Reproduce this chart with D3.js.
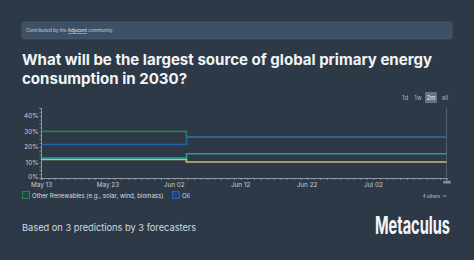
<!DOCTYPE html>
<html>
<head>
<meta charset="utf-8">
<script src="https://cdn.jsdelivr.net/npm/d3@7"></script>
<style>
  html, body { margin: 0; padding: 0; background: #2d3946; }
  text { font-family: Inter, "Noto Sans", sans-serif; }
</style>
</head>
<body>
<div id="chart"></div>
<script>
// Data (share of predicted probability)
var dates = ['2024-05-13', '2024-06-03T20:00', '2024-07-13'];
var renewables = [0.300, 0.263, 0.263];
var oil = [0.215, 0.263, 0.263];
var gas = [0.128, 0.156, 0.156];
var coal = [0.120, 0.103, 0.103];
var yTicks = [0, 0.1, 0.2, 0.3, 0.4];
var xTickDates = ['2024-05-13', '2024-05-23', '2024-06-02', '2024-06-12', '2024-06-22', '2024-07-02'];
var rangeLabels = ['1d', '1w', '2m', 'all'];

var W = 474, H = 260;
var margin = { top: 108, right: 27, bottom: 82, left: 41 };
var parse = d3.isoParse;

var svg = d3.select('#chart').append('svg')
  .attr('width', W)
  .attr('height', H);

// Background
svg.append('rect')
  .attr('width', W)
  .attr('height', H)
  .attr('fill', '#2d3946');

// Contributed banner
svg.append('rect')
  .attr('x', 22).attr('y', 22)
  .attr('width', 430).attr('height', 17)
  .attr('rx', 2)
  .attr('fill', '#3e5064')
  .attr('stroke', '#4a5d72')
  .attr('stroke-width', 0.6);

var banner = svg.append('text')
  .attr('x', 26).attr('y', 32)
  .attr('font-size', 4.6)
  .attr('fill', '#c3ccd6');
banner.append('tspan').text('Contributed by the ');
banner.append('tspan').text('Adjacent').attr('text-decoration', 'underline').attr('fill', '#e4e9ee');
banner.append('tspan').text(' community.');

// Title
var title = svg.append('text')
  .attr('x', 22)
  .attr('font-size', 15.05)
  .attr('font-weight', 700)
  .attr('fill', '#f2f4f6');
title.append('tspan').attr('x', 22).attr('y', 65).text('What will be the largest source of global primary energy');
title.append('tspan').attr('x', 22).attr('y', 84).text('consumption in 2030?');

// Range buttons
var rangeX = [405, 418, 431, 445];
svg.append('rect')
  .attr('x', 425).attr('y', 92)
  .attr('width', 12).attr('height', 11)
  .attr('rx', 1)
  .attr('fill', '#66727f');
svg.selectAll('.range')
  .data(rangeLabels)
  .enter().append('text')
  .attr('class', 'range')
  .attr('x', function(d, i) { return rangeX[i]; })
  .attr('y', 100)
  .attr('text-anchor', 'middle')
  .attr('font-size', 6)
  .attr('fill', function(d) { return d === '2m' ? '#f2f4f6' : '#aab4be'; })
  .text(function(d) { return d; });

// Scales
var x = d3.scaleTime()
  .domain([parse(dates[0]), parse(dates[dates.length - 1])])
  .range([margin.left + 0.5, W - margin.right - 0.5]);
var y = d3.scaleLinear()
  .domain([0, 0.45])
  .range([H - margin.bottom, margin.top]);

var axisColor = '#a6b0ba';

// X axis with daily minor ticks
var xAxis = svg.append('g')
  .attr('transform', 'translate(0,' + (H - margin.bottom) + ')');
xAxis.call(d3.axisBottom(x)
  .ticks(d3.timeDay.every(1))
  .tickSize(2)
  .tickFormat(''));
xAxis.select('.domain').attr('stroke', axisColor).attr('stroke-width', 0.8);
xAxis.selectAll('line').attr('stroke', axisColor).attr('stroke-width', 0.6);

svg.selectAll('.xlab')
  .data(xTickDates)
  .enter().append('text')
  .attr('class', 'xlab')
  .attr('x', function(d) { return x(parse(d)); })
  .attr('y', H - margin.bottom + 9)
  .attr('text-anchor', 'middle')
  .attr('font-size', 6.4)
  .attr('fill', '#c7cfd7')
  .text(function(d) { return d3.timeFormat('%b %d')(parse(d)); });

// "now" marker at the right end
svg.append('rect')
  .attr('x', x.range()[1] - 3.5).attr('y', H - margin.bottom + 2.5)
  .attr('width', 8).attr('height', 3.5)
  .attr('fill', '#56626f');
svg.append('text')
  .attr('x', x.range()[1] + 0.5)
  .attr('y', H - margin.bottom + 5.3)
  .attr('text-anchor', 'middle')
  .attr('font-size', 3.2)
  .attr('fill', '#d7dde3')
  .text('now');

// Y axis with minor ticks
var yAxis = svg.append('g')
  .attr('transform', 'translate(' + margin.left + ',0)');
yAxis.call(d3.axisLeft(y)
  .tickValues(d3.range(0, 0.451, 0.025))
  .tickSize(1.5)
  .tickFormat(''));
yAxis.select('.domain').attr('stroke', axisColor).attr('stroke-width', 0.8);
yAxis.selectAll('line').attr('stroke', axisColor).attr('stroke-width', 0.6);

svg.selectAll('.ylab')
  .data(yTicks)
  .enter().append('text')
  .attr('class', 'ylab')
  .attr('x', margin.left - 2.5)
  .attr('y', function(d) { return y(d) + 2.2 - (d === 0 ? 1 : 0); })
  .attr('text-anchor', 'end')
  .attr('font-size', 6.4)
  .attr('fill', '#c7cfd7')
  .text(function(d) { return d3.format('.0%')(d); });

// Right edge line
svg.append('line')
  .attr('x1', x.range()[1]).attr('x2', x.range()[1])
  .attr('y1', margin.top).attr('y2', H - margin.bottom)
  .attr('stroke', '#5e6a77')
  .attr('stroke-width', 0.8);

// Step lines
var line = d3.line()
  .x(function(d) { return x(parse(d.date)); })
  .y(function(d) { return y(d.value); })
  .curve(d3.curveStepAfter);

function series(values) {
  return dates.map(function(d, i) { return { date: d, value: values[i] }; });
}

var lines = [
  { values: coal, color: '#c9bb7e' },
  { values: gas, color: '#2c9a8c' },
  { values: renewables, color: '#2b7f58' },
  { values: oil, color: '#2a62a8' }
];

svg.selectAll('.series')
  .data(lines)
  .enter().append('path')
  .attr('class', 'series')
  .attr('d', function(d) { return line(series(d.values)); })
  .attr('fill', 'none')
  .attr('stroke', function(d) { return d.color; })
  .attr('stroke-width', 1.6);

// Legend
svg.append('rect')
  .attr('x', 22.5).attr('y', 191.5)
  .attr('width', 7).attr('height', 7)
  .attr('fill', '#23473a')
  .attr('stroke', '#2b7f58')
  .attr('stroke-width', 1);
svg.append('text')
  .attr('x', 32).attr('y', 197.5)
  .attr('font-size', 6.1)
  .attr('fill', '#d8dee4')
  .text('Other Renewables (e.g., solar, wind, biomass)');
svg.append('rect')
  .attr('x', 172.5).attr('y', 191.5)
  .attr('width', 7).attr('height', 7)
  .attr('fill', '#2b4079')
  .attr('stroke', '#2a62a8')
  .attr('stroke-width', 1);
svg.append('text')
  .attr('x', 182).attr('y', 197.5)
  .attr('font-size', 6.1)
  .attr('fill', '#d8dee4')
  .text('Oil');

svg.append('text')
  .attr('x', 440).attr('y', 197.5)
  .attr('text-anchor', 'end')
  .attr('font-size', 4.4)
  .attr('fill', '#c7cfd7')
  .text('4 others');
svg.append('path')
  .attr('d', 'M442.5,195 L444.5,197 L446.5,195')
  .attr('fill', 'none')
  .attr('stroke', '#c7cfd7')
  .attr('stroke-width', 0.7);

// Footer
svg.append('text')
  .attr('x', 22).attr('y', 231)
  .attr('font-size', 9.25)
  .attr('fill', '#d4dae0')
  .text('Based on 3 predictions by 3 forecasters');

// Logo: tall condensed wordmark, squeezed to fit its box
var logo = svg.append('text')
  .attr('font-family', '"DejaVu Sans Condensed", "Liberation Sans Narrow", sans-serif')
  .attr('font-weight', 700)
  .attr('font-size', 14)
  .attr('fill', '#f4f6f8')
  .text('Metaculus');
var logoLen = logo.node().getComputedTextLength();
logo.attr('transform', 'translate(375,234) scale(' + (75 / logoLen) + ',1.75)');
</script>
</body>
</html>
